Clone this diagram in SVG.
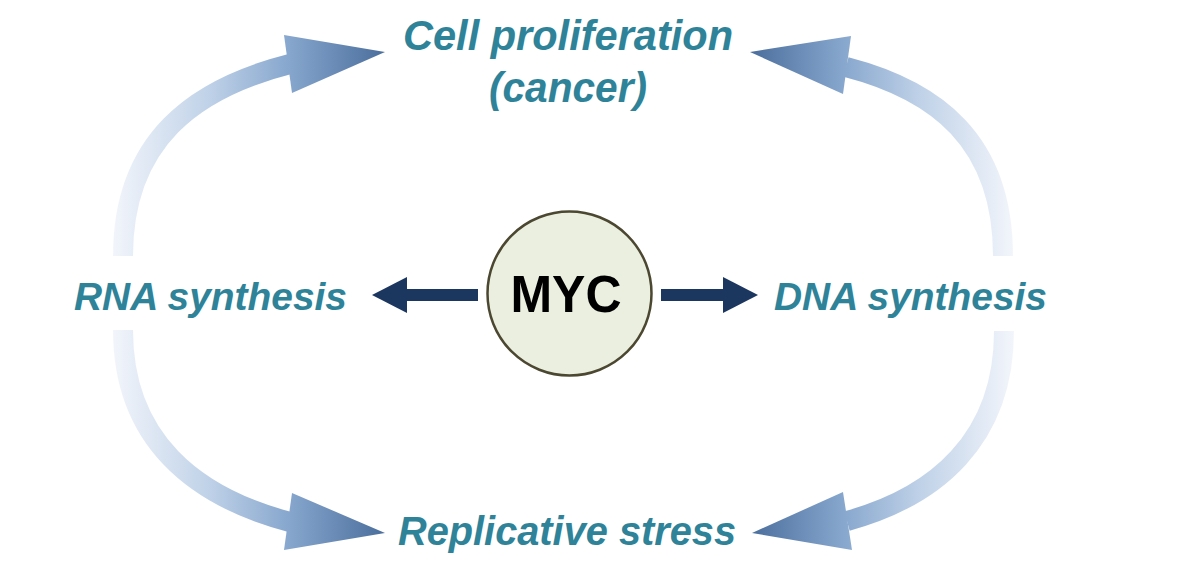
<svg xmlns="http://www.w3.org/2000/svg" width="1200" height="568" viewBox="0 0 1200 568">
  <defs>
    <linearGradient id="gL" gradientUnits="userSpaceOnUse" x1="113" y1="0" x2="385" y2="0">
      <stop offset="0" stop-color="#f2f5fb"/>
      <stop offset="0.35" stop-color="#c0d2e8"/>
      <stop offset="0.65" stop-color="#86a6cd"/>
      <stop offset="1" stop-color="#4a6e9c"/>
    </linearGradient>
    <linearGradient id="gR" gradientUnits="userSpaceOnUse" x1="1013" y1="0" x2="750" y2="0">
      <stop offset="0" stop-color="#f2f5fb"/>
      <stop offset="0.35" stop-color="#c0d2e8"/>
      <stop offset="0.65" stop-color="#86a6cd"/>
      <stop offset="1" stop-color="#4a6e9c"/>
    </linearGradient>
    <style>
      .lbl { font-family: "Liberation Sans", Arial, sans-serif; font-weight: bold; font-style: italic; fill: #2e8399; }
      .shaftL { fill: none; stroke: url(#gL); stroke-width: 20; }
      .shaftR { fill: none; stroke: url(#gR); stroke-width: 20; }
      .headL { fill: url(#gL); }
      .headR { fill: url(#gR); }
      .dark { fill: #1b365f; }
    </style>
  </defs>

  <g id="connectors">
    <g id="arrow-rna-to-prolif">
      <path class="shaftL" d="M123,256 C123,140 195,88 290,64"/>
      <polygon class="headL" points="284,35 385,52 292,93"/>
    </g>
    <g id="arrow-rna-to-stress">
      <path class="shaftL" d="M123,330 C123,440 195,497 290,522"/>
      <polygon class="headL" points="292,493 385,533 284,550"/>
    </g>
    <g id="arrow-dna-to-prolif">
      <path class="shaftR" d="M1003,256 C1003,140 935,90 846,67"/>
      <polygon class="headR" points="851,36 750,52 843,94"/>
    </g>
    <g id="arrow-dna-to-stress">
      <path class="shaftR" d="M1004,331 C1004,440 935,497 847,521"/>
      <polygon class="headR" points="843,492 752,533 852,550"/>
    </g>
    <g id="arrow-myc-to-rna">
      <rect class="dark" x="405" y="289" width="73" height="12"/>
      <polygon class="dark" points="407,277 372,295 407,313"/>
    </g>
    <g id="arrow-myc-to-dna">
      <rect class="dark" x="661" y="289" width="64" height="12"/>
      <polygon class="dark" points="723,277 758,295 723,313"/>
    </g>
  </g>

  <g id="node-myc">
    <circle cx="569.5" cy="293.5" r="82" fill="#eaefdf" stroke="#4b4731" stroke-width="2.5"/>
    <text x="566" y="312" text-anchor="middle" font-family="'Liberation Sans', Arial, sans-serif" font-weight="bold" font-size="52" fill="#000000" textLength="111" lengthAdjust="spacingAndGlyphs">MYC</text>
  </g>

  <g id="node-prolif">
    <text class="lbl" x="568" y="50" text-anchor="middle" font-size="42" textLength="330" lengthAdjust="spacingAndGlyphs">Cell proliferation</text>
    <text class="lbl" x="568" y="102" text-anchor="middle" font-size="42" textLength="158" lengthAdjust="spacingAndGlyphs">(cancer)</text>
  </g>

  <g id="node-rna">
    <text class="lbl" x="74" y="310" font-size="39" textLength="273" lengthAdjust="spacingAndGlyphs">RNA synthesis</text>
  </g>

  <g id="node-dna">
    <text class="lbl" x="774" y="310" font-size="39" textLength="273" lengthAdjust="spacingAndGlyphs">DNA synthesis</text>
  </g>

  <g id="node-stress">
    <text class="lbl" x="567" y="545" text-anchor="middle" font-size="40" textLength="338" lengthAdjust="spacingAndGlyphs">Replicative stress</text>
  </g>
</svg>
